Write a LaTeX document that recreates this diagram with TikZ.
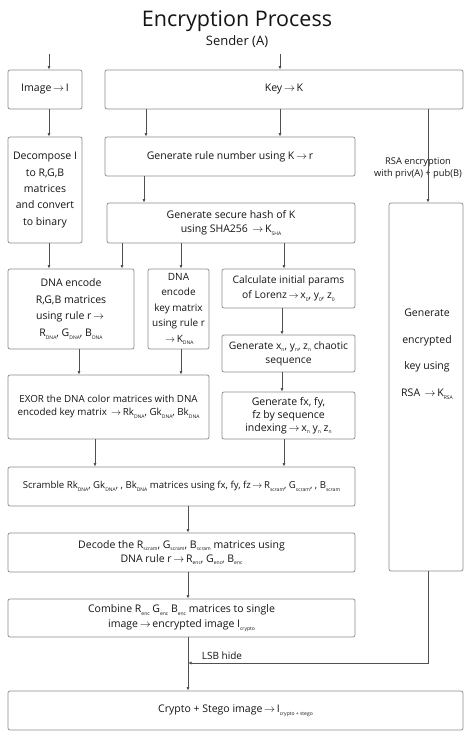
\documentclass[tikz,border=0pt]{standalone}
\usepackage{fontspec}
\setmainfont{Open Sans}
\usetikzlibrary{arrows.meta}
\definecolor{boxc}{HTML}{8A8A8A}
\definecolor{arrc}{HTML}{505050}
\definecolor{txtc}{HTML}{141414}
\newcommand\sbx[1]{\raisebox{-0.5ex}{\fontsize{5}{5}\selectfont #1}}
\newcommand\toarr{\,$\rightarrow$\,}
\begin{document}
\begin{tikzpicture}[x=1pt,y=-1pt,
 box/.style={draw=boxc, line width=0.7pt, rounded corners=2pt, inner sep=1pt, align=center, text=txtc, font=\fontsize{10.5}{15}\selectfont},
 arr/.style={draw=arrc, line width=0.7pt, -{Latex[length=3.5pt,width=3pt]}},
 lbl/.style={text=txtc, align=center, inner sep=0pt}]
\useasboundingbox (0,0) rectangle (474,741);
% title
\node[lbl, font=\fontsize{21.5}{21.5}\selectfont] (title) at (237,21) {Encryption Process};
\node[lbl, font=\fontsize{13}{13}\selectfont] (sender) at (237,42) {Sender (A)};
% boxes
\node[box, minimum width=74pt, minimum height=39pt] (img) at (45,89.5) {Image\toarr$\mathrm{I}$};
\node[box, minimum width=358pt, minimum height=39pt] (key) at (284,89.5) {Key\toarr K};
\node[box, minimum width=74pt, minimum height=106pt, font=\fontsize{10.5}{16.3}\selectfont] (dec) at (45,190) {Decompose $\mathrm{I}$\\to R,G,B\\matrices\\and convert\\to binary};
\node[box, minimum width=250pt, minimum height=39pt] (rule) at (230,156.5) {Generate rule number using K\toarr r};
\node[box, minimum width=248pt, minimum height=40pt, font=\fontsize{10.5}{14}\selectfont] (hash) at (231,223) {Generate secure hash of K\\using SHA256 \toarr K\sbx{SHA}};
\node[box, minimum width=74pt, minimum height=368pt] (rsa) at (426,387) {};
\node[lbl, font=\fontsize{10.5}{26.7}\selectfont] (rsat) at (427,354) {Generate\\encrypted\\key using\\RSA \toarr K\sbx{RSA}};
\node[box, minimum width=126pt, minimum height=80pt, font=\fontsize{10.5}{16.5}\selectfont] (dnae) at (71,309) {DNA encode\\R,G,B matrices\\using rule r\toarr\\R\sbx{DNA}, G\sbx{DNA}, B\sbx{DNA}};
\node[box, minimum width=61pt, minimum height=80pt, font=\fontsize{10}{15.5}\selectfont] (dnak) at (178.5,309) {DNA\\encode\\key matrix\\using rule r\\\toarr K\sbx{DNA}};
\node[box, minimum width=133pt, minimum height=39pt, font=\fontsize{10.3}{15.5}\selectfont] (lor) at (288.5,288.5) {Calculate initial params\\of Lorenz\toarr x\sbx{0}, y\sbx{0}, z\sbx{0}};
\node[box, minimum width=133pt, minimum height=37pt, font=\fontsize{10.3}{14}\selectfont] (xn) at (288.5,353.5) {Generate x\sbx{n}, y\sbx{n}, z\sbx{n} chaotic\\sequence};
\node[box, minimum width=201pt, minimum height=64pt, font=\fontsize{9.8}{13}\selectfont] (exor) at (108.5,407) {EXOR the DNA color matrices with DNA\\encoded key matrix \toarr Rk\sbx{DNA}, Gk\sbx{DNA}, Bk\sbx{DNA}};
\node[box, minimum width=133pt, minimum height=47pt, font=\fontsize{10.5}{13}\selectfont] (fx) at (288.5,415.5) {Generate fx, fy,\\fz by sequence\\indexing\toarr x\sbx{n} y\sbx{n} z\sbx{n}};
\node[box, minimum width=347pt, minimum height=39pt, font=\fontsize{9.6}{12}\selectfont] (scr) at (181.5,486.5) {Scramble Rk\sbx{DNA}, Gk\sbx{DNA}, , Bk\sbx{DNA} matrices using fx, fy, fz\toarr R\sbx{scram}, G\sbx{scram}, , B\sbx{scram}};
\node[box, minimum width=347pt, minimum height=39pt, font=\fontsize{10.5}{14}\selectfont] (decd) at (181.5,552.5) {Decode the R\sbx{scram}, G\sbx{scram}, B\sbx{scram} matrices using\\DNA rule r\toarr R\sbx{enc}, G\sbx{enc}, B\sbx{enc}};
\node[box, minimum width=347pt, minimum height=38pt, font=\fontsize{10.5}{15}\selectfont] (comb) at (181.5,618) {Combine R\sbx{enc} G\sbx{enc} B\sbx{enc} matrices to single\\image\toarr encrypted image $\mathrm{I}$\sbx{crypto}};
\node[box, minimum width=455pt, minimum height=39pt] (final) at (235.5,710.5) {Crypto + Stego image\toarr$\mathrm{I}$\sbx{crypto + stego}};
% labels
\node[lbl, font=\fontsize{9.3}{12}\selectfont] (rsal) at (418,168) {RSA encryption\\with priv(A) + pub(B)};
\node[lbl, font=\fontsize{10}{12}\selectfont] (lsbt) at (222,656) {LSB hide};
% x positions
\coordinate (t1) at (49,54);
\coordinate (t2) at (280,54);
\coordinate (xa) at (146,0);
\coordinate (xr) at (428,0);
\coordinate (xb) at (144,0);
\coordinate (xc) at (122,0);
\coordinate (xd) at (181,0);
\coordinate (xe) at (284,0);
\coordinate (xf) at (282,0);
\coordinate (xg) at (79,0);
\coordinate (xh) at (95,0);
\coordinate (xi) at (188,0);
\coordinate (lsb) at (428,663);
% connectors
\draw[arr] (t1) -- (t1 |- img.north);
\draw[arr] (t2) -- (t2 |- key.north);
\draw[arr] (img.south -| t1) -- (dec.north -| t1);
\draw[arr] (key.south -| xa) -- (rule.north -| xa);
\draw[arr] (key.south -| t2) -- (rule.north -| t2);
\draw[arr] (key.south -| xr) -- (rsa.north -| xr);
\draw[arr] (rule.south -| xb) -- (hash.north -| xb);
\draw[arr] (dec.south -| t1) -- (dnae.north -| t1);
\draw[arr] (hash.south -| xc) -- (dnae.north -| xc);
\draw[arr] (hash.south -| xd) -- (dnak.north -| xd);
\draw[arr] (hash.south -| xe) -- (lor.north -| xe);
\draw[arr] (lor.south -| xf) -- (xn.north -| xf);
\draw[arr] (xn.south -| xf) -- (fx.north -| xf);
\draw[arr] (dnae.south -| xg) -- (exor.north -| xg);
\draw[arr] (dnak.south -| xd) -- (exor.north -| xd);
\draw[arr] (exor.south -| xh) -- (scr.north -| xh);
\draw[arr] (fx.south -| xe) -- (scr.north -| xe);
\draw[arr] (scr.south -| xi) -- (decd.north -| xi);
\draw[arr] (decd.south -| xi) -- (comb.north -| xi);
\draw[arr] (comb.south -| xi) -- (final.north -| xi);
\draw[arr] (rsa.south -| xr) -- (lsb) -- (lsb -| xi);
\end{tikzpicture}
\end{document}
